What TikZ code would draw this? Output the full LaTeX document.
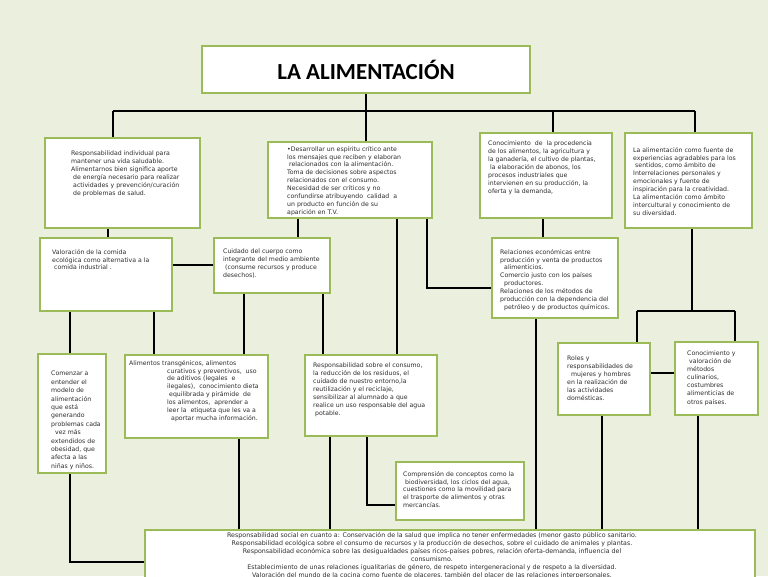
\documentclass[tikz,border=0pt]{standalone}
\usepackage{fontspec}
\newfontfamily\boxfont{DejaVu Sans}
\newfontfamily\titlefont{Carlito}
\usetikzlibrary{backgrounds}
\definecolor{bgc}{RGB}{235,240,222}
\definecolor{edgec}{RGB}{155,187,89}
\definecolor{txc}{RGB}{45,45,45}
\tikzset{
  x=1pt, y=-1pt,
  box/.style={draw=edgec, line width=1.6pt, fill=white, inner sep=0pt},
  txt/.style={font=\boxfont\fontsize{6.2}{7.9}\selectfont, text=txc, align=left, inner sep=0pt, anchor=north west},
  conn/.style={draw=black, line width=1.7pt},
  thickconn/.style={draw=black, line width=2.6pt}
}
\begin{document}
\begin{tikzpicture}
\useasboundingbox (0,0) rectangle (768,576);
\clip (0,0) rectangle (768,576);

% boxes
\node[box, minimum width=328pt, minimum height=47pt] (T) at (366,69.5) {};
\node[box, minimum width=155pt, minimum height=90pt] (b1) at (122.5,183) {};
\node[box, minimum width=164pt, minimum height=76pt] (b2) at (350,180) {};
\node[box, minimum width=132pt, minimum height=85pt] (b3) at (546,175.5) {};
\node[box, minimum width=127pt, minimum height=95pt] (b4) at (688.5,180.5) {};
\node[box, minimum width=132pt, minimum height=73pt] (b5) at (106,274.5) {};
\node[box, minimum width=116pt, minimum height=55pt] (b6) at (272,265.5) {};
\node[box, minimum width=126pt, minimum height=80pt] (b7) at (555,278) {};
\node[box, minimum width=68pt, minimum height=119pt] (b8) at (72,413.5) {};
\node[box, minimum width=143pt, minimum height=83pt] (b9) at (196.5,396.5) {};
\node[box, minimum width=132pt, minimum height=81pt] (b10) at (371,395.5) {};
\node[box, minimum width=92pt, minimum height=72pt] (b11) at (604,379) {};
\node[box, minimum width=83pt, minimum height=73pt] (b12) at (716.5,378.5) {};
\node[box, minimum width=128pt, minimum height=58pt] (b13) at (460,491) {};
\node[box, minimum width=610pt, minimum height=60pt] (b14) at (450,560) {};

\begin{pgfonlayer}{background}
\fill[bgc] (0,0) rectangle (768,576);
\coordinate (barL) at (113,111);
\coordinate (barM) at (553,111);
\coordinate (barR) at (695,111);
\draw[conn] (T.south) -- (T.south |- barL);
\draw[conn] (barL) -- (barM);
\draw[thickconn] (barM) -- (barR);
\draw[conn] (barL) -- (b1.north -| barL);
\draw[conn] (366,111) -- (b2.north -| 366,0);
\draw[thickconn] (barM) -- (b3.north -| barM);
\draw[conn] (barR) -- (b4.north -| barR);
\draw[conn] (b1.south -| 108,0) -- (b5.north -| 108,0);
\draw[conn] (b5.east |- 0,265) -- (b6.west |- 0,265);
\draw[conn] (b2.south -| 298,0) -- (b6.north -| 298,0);
\draw[conn] (b2.south -| 397,0) -- (b10.north -| 397,0);
\draw[conn] (b2.south -| 427,0) |- (b7.west |- 0,288);
\draw[conn] (b3.south -| 543,0) -- (b7.north -| 543,0);
\draw[conn] (b7.south -| 536,0) -- (b14.north -| 536,0);
\coordinate (rj) at (692,311);
\coordinate (rl) at (637,311);
\coordinate (rr) at (735,311);
\draw[conn] (b4.south -| rj) -- (rj);
\draw[conn] (rl) -- (rr);
\draw[conn] (rl) -- (b11.north -| rl);
\draw[conn] (rr) -- (b12.north -| rr);
\draw[conn] (b11.east |- 0,373) -- (b12.west |- 0,373);
\draw[conn] (b11.south -| 602,0) -- (b14.north -| 602,0);
\draw[conn] (b12.south -| 698,0) -- (b14.north -| 698,0);
\draw[conn] (b5.south -| 70,0) -- (b8.north -| 70,0);
\draw[conn] (b5.south -| 154,0) -- (b9.north -| 154,0);
\draw[conn] (b6.south -| 244,0) -- (b9.north -| 244,0);
\draw[conn] (b6.south -| 323,0) -- (b10.north -| 323,0);
\draw[conn] (b9.south -| 239,0) -- (b14.north -| 239,0);
\draw[conn] (b8.south -| 70,0) |- (b14.west |- 0,562);
\draw[conn] (b10.south -| 330,0) -- (b14.north -| 330,0);
\draw[conn] (b10.south -| 367,0) |- (b13.west |- 0,505);
\end{pgfonlayer}

% texts
\node[font=\titlefont\bfseries\fontsize{23}{26}\selectfont, text=black, inner sep=0pt] (Tt) at (T.center) {LA ALIMENTACIÓN};

\node[txt] (b1t) at (71,151) {Responsabilidad individual para\\mantener una vida saludable.\\Alimentarnos bien significa aporte\\\hspace{2pt}de energía necesario para realizar\\\hspace{2pt}actividades y prevención/curación\\\hspace{2pt}de problemas de salud.};

\node[txt] (b2t) at (287,146) {•Desarrollar un espíritu crítico ante\\los mensajes que reciben y elaboran\\\hspace{2pt}relacionados con la alimentación.\\Toma de decisiones sobre aspectos\\relacionados con el consumo.\\Necesidad de ser críticos y no\\confundirse atribuyendo\ \ calidad\ \ a\\un producto en función de su\\aparición en T.V.};

\node[txt] (b3t) at (488,141) {Conocimiento\ \ de\ \ la procedencia\\de los alimentos, la agricultura y\\la ganadería, el cultivo de plantas,\\\hspace{2pt}la elaboración de abonos, los\\procesos industriales que\\intervienen en su producción, la\\oferta y la demanda,};

\node[txt] (b4t) at (633,147) {La alimentación como fuente de\\experiencias agradables para los\\\hspace{2pt}sentidos, como ámbito de\\Interrelaciones personales y\\emocionales y fuente de\\inspiración para la creatividad.\\La alimentación como ámbito\\intercultural y conocimiento de\\su diversidad.};

\node[txt] (b5t) at (52,249) {Valoración de la comida\\ecológica como alternativa a la\\\hspace{2pt}comida industrial .};

\node[txt] (b6t) at (223,249) {Cuidado del cuerpo como\\integrante del medio ambiente\\\hspace{2pt}(consume recursos y produce\\desechos).};

\node[txt] (b7t) at (500,249) {Relaciones económicas entre\\producción y venta de productos\\\hspace{4pt}alimenticios.\\Comercio justo con los países\\\hspace{4pt}productores.\\Relaciones de los métodos de\\producción con la dependencia del\\\hspace{4pt}petróleo y de productos químicos.};

\node[txt, font=\boxfont\fontsize{6.2}{8.4}\selectfont] (b8t) at (51,371) {Comenzar a\\entender el\\modelo de\\alimentación\\que está\\generando\\problemas cada\\\hspace{4pt}vez más\\extendidos de\\obesidad, que\\afecta a las\\niñas y niños.};

\node[txt] (b9t) at (129,360) {Alimentos transgénicos, alimentos\\\hspace{38pt}curativos y preventivos,\ \ uso\\\hspace{38pt}de aditivos (legales\ \ e\\\hspace{38pt}ilegales),\ \ conocimiento dieta\\\hspace{40pt}equilibrada y pirámide\ \ de\\\hspace{38pt}los alimentos,\ \ aprender a\\\hspace{38pt}leer la\ \ etiqueta que les va a\\\hspace{42pt}aportar mucha información.};

\node[txt] (b10t) at (313,363) {Responsabilidad sobre el consumo,\\la reducción de los residuos, el\\cuidado de nuestro entorno,la\\reutilización y el reciclaje,\\sensibilizar al alumnado a que\\realice un uso responsable del agua\\\hspace{2pt}potable.};

\node[txt] (b11t) at (567,356) {Roles y\\responsabilidades de\\\hspace{4pt}mujeres y hombres\\en la realización de\\las actividades\\domésticas.};

\node[txt] (b12t) at (687,351) {Conocimiento y\\\hspace{2pt}valoración de\\métodos\\culinarios,\\costumbres\\alimenticias de\\[1.5pt]otros países.};

\node[txt] (b13t) at (403,471) {Comprensión de conceptos como la\\\hspace{2pt}biodiversidad, los ciclos del agua,\\cuestiones como la movilidad para\\el trasporte de alimentos y otras\\mercancías.};

\node[txt, font=\boxfont\fontsize{6.3}{8.1}\selectfont, align=center, anchor=north] (b14t) at (432,532) {Responsabilidad social en cuanto a: Conservación de la salud que implica no tener enfermedades (menor gasto público sanitario.\\Responsabilidad ecológica sobre el consumo de recursos y la producción de desechos, sobre el cuidado de animales y plantas.\\Responsabilidad económica sobre las desigualdades países ricos-países pobres, relación oferta-demanda, influencia del\\consumismo.\\Establecimiento de unas relaciones igualitarias de género, de respeto intergeneracional y de respeto a la diversidad.\\Valoración del mundo de la cocina como fuente de placeres, también del placer de las relaciones interpersonales.};
\end{tikzpicture}
\end{document}
